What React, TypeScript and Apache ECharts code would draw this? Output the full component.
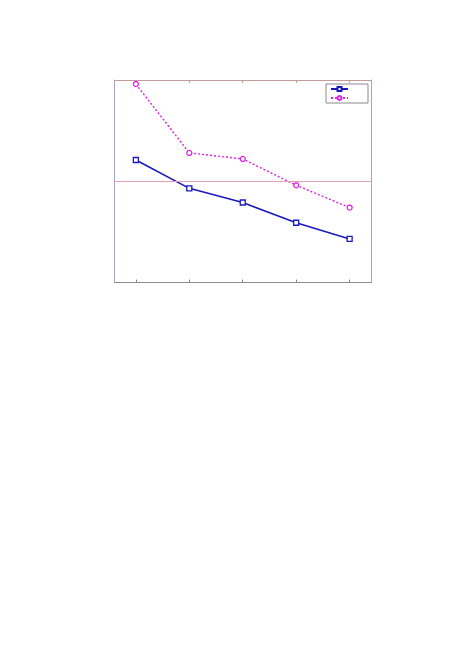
import React, { useEffect, useRef } from "react";
import * as echarts from "echarts";

const xPositions = [1, 2, 3, 4, 5];
const blueValues = [0.21, -0.07, -0.21, -0.41, -0.57];
const magentaValues = [0.96, 0.28, 0.22, -0.04, -0.26];
const tickValues = [1, 2, 3, 4, 5];

export default function App() {
  const ref = useRef<HTMLDivElement>(null);
  useEffect(() => {
    if (!ref.current) return;
    const chart = echarts.init(ref.current, null, { renderer: "svg" });
    const pair = (vals: number[]) => xPositions.map((x, i) => [x, vals[i]]);
    chart.setOption({
      animation: false,
      backgroundColor: "#ffffff",
      grid: { left: 114.5, top: 80, right: 103, bottom: 387.5, containLabel: false },
      legend: {
        show: true,
        orient: "vertical",
        right: 106,
        top: 84,
        itemWidth: 17,
        itemHeight: 5,
        itemGap: 3,
        padding: [2, 19, 2, 4],
        borderColor: "#8a8a8a",
        borderWidth: 1,
        backgroundColor: "#ffffff",
        formatter: () => "",
        textStyle: { fontSize: 1 },
        data: ["s1", "s2"],
      },
      xAxis: [
        {
          type: "value",
          min: 0.6,
          max: 5.4,
          position: "bottom",
          axisLine: { show: true, onZero: false, lineStyle: { color: "#8c8c8c", width: 1 } },
          axisTick: { show: true, inside: true, length: 3, customValues: tickValues, lineStyle: { color: "#8c8c8c" } },
          axisLabel: { show: false },
          splitLine: { show: false },
        },
        {
          type: "value",
          min: 0.6,
          max: 5.4,
          position: "top",
          axisLine: { show: true, onZero: false, lineStyle: { color: "#c49a9a", width: 1 } },
          axisTick: { show: true, inside: true, length: 3, customValues: tickValues, lineStyle: { color: "#c49a9a" } },
          axisLabel: { show: false },
          splitLine: { show: false },
        },
      ],
      yAxis: [
        {
          type: "value",
          min: -1,
          max: 1,
          interval: 1,
          position: "left",
          axisLine: { show: true, onZero: false, lineStyle: { color: "#a4a4cc", width: 1 } },
          axisTick: { show: false },
          axisLabel: { show: false },
          splitLine: { show: false },
        },
        {
          type: "value",
          min: -1,
          max: 1,
          interval: 1,
          position: "right",
          axisLine: { show: true, onZero: false, lineStyle: { color: "#c49a9a", width: 1 } },
          axisTick: { show: false },
          axisLabel: { show: false },
          splitLine: { show: false },
        },
      ],
      series: [
        {
          name: "s1",
          type: "line",
          data: pair(blueValues),
          symbol: "rect",
          symbolSize: 5,
          lineStyle: { color: "#1a1ac0", width: 1.6 },
          itemStyle: { color: "#ffffff", borderColor: "#1a1ac0", borderWidth: 1.3 },
          z: 3,
        },
        {
          name: "s2",
          type: "line",
          data: pair(magentaValues),
          symbol: "circle",
          symbolSize: 5,
          lineStyle: { color: "#e020e0", width: 1.4, type: [2, 2] },
          itemStyle: { color: "#ffffff", borderColor: "#e020e0", borderWidth: 1.3 },
          markLine: {
            silent: true,
            symbol: "none",
            label: { show: false },
            lineStyle: { color: "#e6a0bc", type: "solid", width: 1 },
            data: [{ yAxis: 0 }],
          },
          z: 3,
        },
      ],
    });
    return () => chart.dispose();
  }, []);
  return (
    <div
      ref={ref}
      style={{ position: "fixed", left: 0, top: 0, width: 474, height: 670, background: "#fff" }}
    />
  );
}
